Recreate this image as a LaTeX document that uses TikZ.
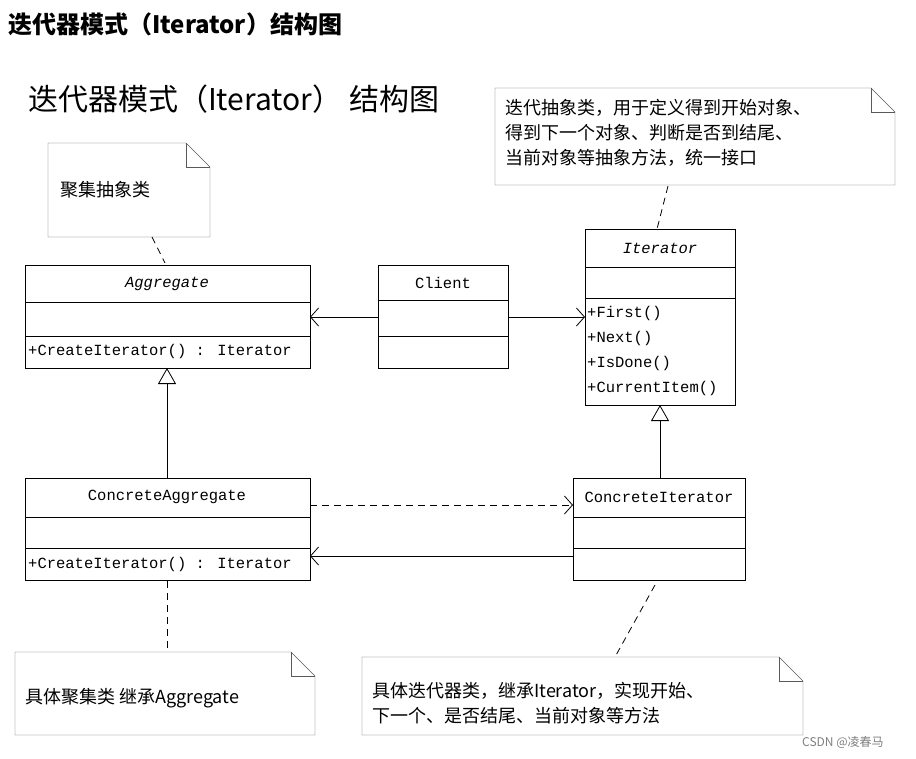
\documentclass[tikz,border=0pt]{standalone}
\usepackage{fontspec}
\setmainfont{Liberation Serif}
\newfontfamily\cjk{Noto Sans CJK SC}
\newfontfamily\mono{Liberation Mono}
\usetikzlibrary{arrows.meta}

\tikzset{
	cls/.style={draw,thick},
	txt/.style={inner sep=0pt,font=\mono\fontsize{15.5}{17}\selectfont},
	note/.style={inner sep=0pt,anchor=west,align=left,font=\cjk\fontsize{18}{25}\selectfont},
	open/.style={-{Straight Barb[length=8pt,width=18pt]},thick},
	inherit/.style={-{Triangle[open,length=16pt,width=18pt]},thick},
	dsh/.style={thick,dash pattern=on 7pt off 5pt}
}
\newcommand{\notebox}[5]{% x1,y1,x2,y2,fold
	\draw[thin,gray!70!black] (#1,#2) -- (#3-#5,#2) -- (#3,#2+#5) -- (#3,#4) -- (#1,#4) -- cycle;
	\draw[thin,gray!70!black] (#3-#5,#2) -- (#3-#5,#2+#5) -- (#3,#2+#5);
}

\begin{document}
\begin{tikzpicture}[x=1pt,y=-1pt]
	\useasboundingbox[fill=white] (0,0) rectangle (916,758);
	% titles
	\node[anchor=west,inner sep=0pt,font=\cjk\bfseries\fontsize{24}{26}\selectfont] (head) at (8,24) {迭代器模式（Iterator）结构图};
	\node[anchor=west,inner sep=0pt,font=\cjk\fontsize{30}{32}\selectfont] (title) at (28,99) {迭代器模式（Iterator） 结构图};
	% notes
	\notebox{48}{143}{210}{237}{24}
	\node[note] (nAgg) at (60,190) {聚集抽象类};
	\notebox{495}{88}{895}{185}{24}
	\node[note] (nIt) at (505,133) {迭代抽象类，用于定义得到开始对象、\\得到下一个对象、判断是否到结尾、\\当前对象等抽象方法，统一接口};
	\notebox{15}{652}{315}{735}{24}
	\node[note] (nCAgg) at (25,698) {具体聚集类 继承Aggregate};
	\notebox{362}{657}{803}{735}{24}
	\node[note] (nCIt) at (372,703) {具体迭代器类，继承Iterator，实现开始、\\下一个、是否结尾、当前对象等方法};
	% classes
	\draw[cls] (25,265) rectangle (310,368); \draw[cls] (25,302) -- (310,302) (25,336) -- (310,336);
	\node[txt,font=\mono\itshape\fontsize{15.5}{17}\selectfont] (agg) at (167,284) {Aggregate};
	\node[txt,anchor=west] (aggOp) at (28,351) {+CreateIterator() : Iterator};
	\draw[cls] (378,265) rectangle (508,368); \draw[cls] (378,300) -- (508,300) (378,336) -- (508,336);
	\node[txt] (client) at (443,283) {Client};
	\draw[cls] (585,229) rectangle (735,405); \draw[cls] (585,267) -- (735,267) (585,298) -- (735,298);
	\node[txt,font=\mono\itshape\fontsize{15.5}{17}\selectfont] (it) at (660,248) {Iterator};
	\foreach \m [count=\i] in {First(),Next(),IsDone(),CurrentItem()}
		\node[txt,anchor=west] (m\i) at (587,288+25*\i) {+\m};
	\draw[cls] (25,478) rectangle (310,580); \draw[cls] (25,517) -- (310,517) (25,548) -- (310,548);
	\node[txt] (cagg) at (167,497) {ConcreteAggregate};
	\node[txt,anchor=west] (caggOp) at (28,564) {+CreateIterator() : Iterator};
	\draw[cls] (573,478) rectangle (745,580); \draw[cls] (573,517) -- (745,517) (573,548) -- (745,548);
	\node[txt] (cit) at (659,497) {ConcreteIterator};
	% coordinates
	\coordinate (cL) at (378,317); \coordinate (aR) at (310,317);
	\coordinate (cR) at (508,317); \coordinate (iL) at (585,317);
	\coordinate (caT) at (167,478); \coordinate (aB) at (167,368);
	\coordinate (ciT) at (660,478); \coordinate (iB) at (660,405);
	\coordinate (caR1) at (310,505); \coordinate (ciL1) at (573,505);
	\coordinate (ciL2) at (573,556); \coordinate (caR2) at (310,556);
	% connectors
	\draw[open] (cL) -- (aR);
	\draw[open] (cR) -- (iL);
	\draw[inherit] (caT) -- (aB);
	\draw[inherit] (ciT) -- (iB);
	\draw[open,dsh] (caR1) -- (ciL1);
	\draw[open] (ciL2) -- (caR2);
	% note links
	\draw[dsh] (152,237) -- (165,263);
	\draw[dsh] (668,186) -- (657,229);
	\draw[dsh] (167,581) -- (167,652);
	\draw[dsh] (655,585) -- (615,657);
	\node[anchor=west,inner sep=0pt,text=gray,font=\cjk\fontsize{12}{14}\selectfont] (wm) at (802,742) {CSDN @凌春马};
\end{tikzpicture}
\end{document}
